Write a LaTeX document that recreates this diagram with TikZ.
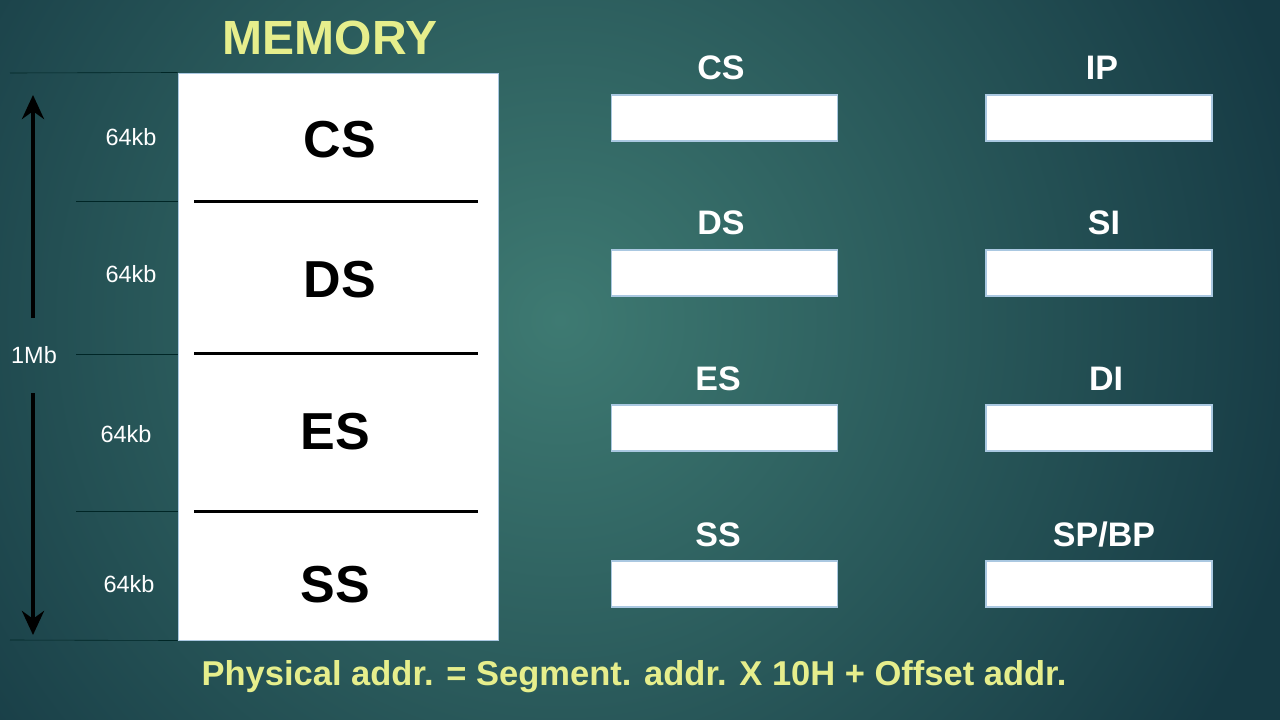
\documentclass[tikz,border=0pt]{standalone}
\usepackage{fontspec}
\usetikzlibrary{arrows.meta}
\setmainfont{Liberation Sans}
\definecolor{bgout}{RGB}{22,58,68}
\definecolor{bgin}{RGB}{62,122,114}
\definecolor{yelc}{RGB}{230,238,140}
\definecolor{edgec}{RGB}{170,200,225}
\begin{document}
\begin{tikzpicture}[x=1pt,y=-1pt,
  lbl/.style={font=\fontsize{34}{36}\selectfont\bfseries,text=white},
  reg/.style={draw=edgec,line width=1.5pt,fill=white,minimum width=226pt,minimum height=46pt,inner sep=0},
  kb/.style={font=\fontsize{23.5}{25}\selectfont,text=white},
  seg/.style={font=\fontsize{52}{54}\selectfont\bfseries,text=black},
  hair/.style={draw=black!70!teal,line width=0.6pt},
  yel/.style={text=yelc}]
\useasboundingbox (0,0) rectangle (1280,720);
\fill[bgout] (0,0) rectangle (1280,720);
\shade[inner color=bgin, outer color=bgout] (560,320) circle (760);
% memory
\node[yel,font=\fontsize{48}{50}\selectfont\bfseries] (mem) at (330,38) {MEMORY};
\node[draw=edgec,line width=1pt,fill=white,minimum width=320pt,minimum height=567pt,inner sep=0] (box) at (338,356.5) {};
\foreach \y in {201,353,511} \draw[line width=3pt] (194,\y) -- (478,\y);
\draw[hair] (10,73) -- (box.north west);
\draw[hair] (76,201) -- (178,201);
\draw[hair] (76,354) -- (178,354);
\draw[hair] (76,511) -- (178,511);
\draw[hair] (10,640) -- (box.south west);
\node[seg] (s1) at (340,140) {CS};
\node[seg] (s2) at (340,280) {DS};
\node[seg] (s3) at (335,432) {ES};
\node[seg] (s4) at (335,585) {SS};
\node[kb] (k1) at (131,137) {64kb};
\node[kb] (k2) at (131,274) {64kb};
\node[kb] (k3) at (126,434) {64kb};
\node[kb] (k4) at (129,584) {64kb};
\node[kb] (mb) at (34,355) {1Mb};
\coordinate (top) at (33,95);
\coordinate (bot) at (33,635);
\draw[line width=4pt,-{Stealth[length=24pt,width=22pt]}] (33,318) -- (top);
\draw[line width=4pt,-{Stealth[length=24pt,width=22pt]}] (33,393) -- (bot);
% registers
\foreach \n/\t/\x/\y in {a/CS/721/68, b/DS/721/223, c/ES/718/379, d/SS/718/535, e/IP/1102/68, f/SI/1104/223, g/DI/1106/379, h/SP\slash BP/1104/535}{
  \node[lbl] (l\n) at (\x,\y) {\t};}
\foreach \n/\x/\y in {a/724.5/118, b/724.5/273, c/724.5/428, d/724.5/584, e/1099/118, f/1099/273, g/1099/428, h/1099/584}{
  \node[reg] (r\n) at (\x,\y) {};}
\node[yel,font=\fontsize{34.5}{36}\selectfont\bfseries] (f) at (634,677) {Physical addr. = Segment. addr. X 10H + Offset addr.};
\end{tikzpicture}
\end{document}
